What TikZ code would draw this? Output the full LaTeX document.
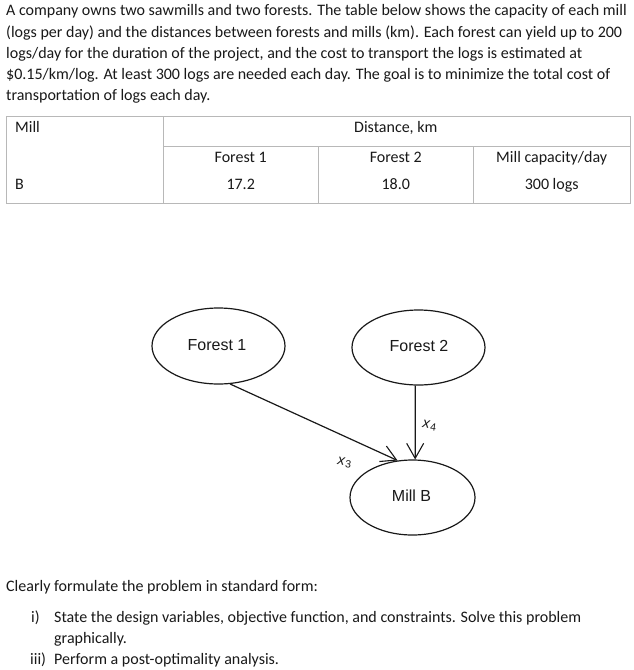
\documentclass[tikz,border=0pt]{standalone}
\usepackage{fontspec}
\setmainfont{Carlito}
\newfontfamily\figfont{Liberation Sans}
\usetikzlibrary{arrows.meta,shapes.geometric}
\tikzset{
  txt/.style={anchor=base west,inner sep=0pt,font=\fontsize{16}{18}\selectfont,text=black!90},
  cell/.style={anchor=base,inner sep=0pt,font=\fontsize{16}{18}\selectfont,text=black!90},
  rule/.style={draw=black!28,line width=0.8pt},
  place/.style={ellipse,draw=black!90,line width=1.2pt,inner sep=0pt},
  flow/.style={draw=black!90,line width=1.2pt,-{Straight Barb[length=15pt,width=17pt,line width=1.1pt]}},
  figlab/.style={anchor=base,inner sep=0pt,font=\figfont\fontsize{16}{18}\selectfont,text=black!90},
  varlab/.style={anchor=base west,inner sep=0pt,font=\figfont\itshape\fontsize{14.5}{16}\selectfont,text=black!90}
}
\begin{document}
\begin{tikzpicture}[x=1pt,y=-1pt]
\useasboundingbox (0,0) rectangle (634,670);
\fill[white] (0,0) rectangle (634,670);
\node[txt] (l1) at (6,15.7) {A company owns two sawmills and two forests. The table below shows the capacity of each mill};
\node[txt] (l2) at (6,37.3) {(logs per day) and the distances between forests and mills (km). Each forest can yield up to 200};
\node[txt] (l3) at (6,58.8) {logs/day for the duration of the project, and the cost to transport the logs is estimated at};
\node[txt] (l4) at (6,79.5) {\$0.15/km/log. At least 300 logs are needed each day. The goal is to minimize the total cost of};
\node[txt] (l5) at (6,100.5) {transportation of logs each day.};
% table
\draw[rule] (6,116) rectangle (630,203.3);
\draw[rule] (163,116) -- (163,203.3);
\draw[rule] (163,146) -- (630,146);
\draw[rule] (318.3,146) -- (318.3,203.3);
\draw[rule] (473.3,146) -- (473.3,203.3);
\node[txt] (mill) at (15,132) {Mill};
\node[cell] (dist) at (395.8,132.5) {Distance, km};
\node[cell] (f1h) at (240.7,162.5) {Forest 1};
\node[cell] (f2h) at (395.8,162.5) {Forest 2};
\node[cell] (cap) at (551.7,162.5) {Mill capacity/day};
\node[txt] (b) at (15,189.3) {B};
\node[cell] (v1) at (240.7,189.3) {17.2};
\node[cell] (v2) at (395.8,189.3) {18.0};
\node[cell] (v3) at (551.7,189.3) {300 logs};
% network
\node[place,minimum width=133pt,minimum height=76pt] (f1) at (218.5,346) {};
\node[place,minimum width=133pt,minimum height=75pt] (f2) at (418.5,347.5) {};
\node[place,minimum width=125pt,minimum height=75pt] (mb) at (412.5,497.5) {};
\node[figlab] (t1) at (217,350) {Forest 1};
\node[figlab] (t2) at (419,351.5) {Forest 2};
\node[figlab] (t3) at (411.5,501) {Mill B};
\draw[flow] (f1.-73) -- (mb.112.5);
\draw[flow] (f2.-95.3) -- (mb.86);
\node[varlab,rotate=-8] (x3) at (337,464) {x\kern0.8pt\raisebox{-2.5pt}{\fontsize{10.5}{11}\selectfont\upshape 3}};
\node[varlab,rotate=-8] (x4) at (422,427) {x\kern0.8pt\raisebox{-2.5pt}{\fontsize{10.5}{11}\selectfont\upshape 4}};
% bottom
\node[txt] (c1) at (6,591) {Clearly formulate the problem in standard form:};
\node[txt] (c2) at (31,622) {i)};
\node[txt] (c3) at (54,622) {State the design variables, objective function, and constraints. Solve this problem};
\node[txt] (c4) at (54,643.8) {graphically.};
\node[txt] (c5) at (30,664.3) {iii)};
\node[txt] (c6) at (54,664.3) {Perform a post-optimality analysis.};
\end{tikzpicture}
\end{document}
